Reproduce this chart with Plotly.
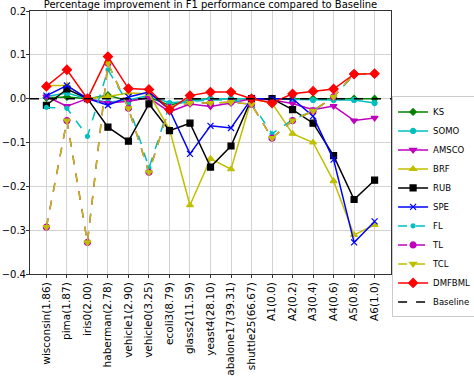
import plotly.graph_objects as go

categories = ["wisconsin(1.86)", "pima(1.87)", "iris0(2.00)", "haberman(2.78)", "vehicle1(2.90)",
              "vehicle0(3.25)", "ecoli3(8.79)", "glass2(11.59)", "yeast4(28.10)", "abalone17(39.31)",
              "shuttle25(66.67)", "A1(0.0)", "A2(0.2)", "A3(0.4)", "A4(0.6)", "A5(0.8)", "A6(1.0)"]

ks     = [0.002, 0.004, 0.0, 0.008, -0.005, 0.003, -0.015, -0.003, 0.0, 0.0, 0.0, 0.0, 0.0, 0.0, 0.0, 0.0, 0.0]
somo   = [0.005, 0.013, 0.0, -0.008, -0.003, 0.008, -0.010, -0.005, 0.0, 0.0, 0.0, 0.0, -0.002, -0.003, -0.003, -0.003, -0.010]
amsco  = [0.005, -0.017, 0.0, -0.010, -0.006, 0.002, -0.030, -0.012, -0.018, -0.010, 0.0, -0.003, -0.011, -0.025, -0.017, -0.050, -0.044]
brf    = [0.030, 0.030, 0.0, 0.005, 0.013, 0.011, -0.070, -0.243, -0.137, -0.161, 0.0, -0.010, -0.080, -0.100, -0.188, -0.311, -0.288]
rub    = [-0.015, 0.022, 0.0, -0.065, -0.097, -0.012, -0.073, -0.056, -0.156, -0.108, 0.0, 0.0, -0.025, -0.056, -0.130, -0.230, -0.186]
spe    = [0.007, 0.030, 0.0, -0.015, 0.004, 0.015, -0.025, -0.126, -0.062, -0.067, 0.0, 0.0, 0.0, -0.040, -0.139, -0.328, -0.280]
fl     = [-0.020, -0.022, -0.086, 0.066, -0.013, -0.158, -0.015, -0.006, -0.003, -0.003, -0.010, -0.080, -0.048, -0.028, 0.004, 0.055, 0.057]
tl     = [-0.293, -0.050, -0.328, 0.081, -0.022, -0.168, -0.020, -0.010, -0.010, -0.008, -0.013, -0.090, -0.050, -0.028, 0.004, 0.056, 0.057]
tcl    = [-0.293, -0.050, -0.328, 0.081, -0.022, -0.168, -0.020, -0.010, -0.010, -0.008, -0.013, -0.090, -0.050, -0.028, 0.004, 0.056, 0.057]
dmfbml = [0.028, 0.066, 0.0, 0.096, 0.023, 0.021, -0.025, 0.007, 0.015, 0.015, 0.0, -0.010, 0.011, 0.017, 0.022, 0.056, 0.057]
baseline_value = 0.0

y_ticks = [0.2, 0.1, 0.0, -0.1, -0.2, -0.3, -0.4]

xpos = list(range(len(categories)))
x_lo, x_hi = -0.8, len(categories) - 1 + 0.8

series = [
    ("KS", ks, "#008000", "solid", "diamond", 5),
    ("SOMO", somo, "#00bfbf", "solid", "circle", 5),
    ("AMSCO", amsco, "#bf00bf", "solid", "triangle-down", 6),
    ("BRF", brf, "#bfbf00", "solid", "triangle-up", 6),
    ("RUB", rub, "#000000", "solid", "square", 6),
    ("SPE", spe, "#0000ff", "solid", "x-thin-open", 6),
    ("FL", fl, "#00bfbf", "dash", "circle", 4),
    ("TL", tl, "#bf00bf", "dash", "circle", 6),
    ("TCL", tcl, "#bfbf00", "dash", "triangle-down", 6),
    ("DMFBML", dmfbml, "#ff0000", "solid", "diamond", 7),
]

fig = go.Figure()
for name, vals, col, dash, sym, size in series:
    fig.add_trace(go.Scatter(
        x=xpos, y=vals, name=name, mode="lines+markers",
        line=dict(color=col, width=1.5, dash=dash),
        marker=dict(symbol=sym, size=size, color=col, line=dict(color=col, width=1.2)),
    ))

fig.add_trace(go.Scatter(
    x=[x_lo, x_hi], y=[baseline_value, baseline_value], name="Baseline", mode="lines",
    line=dict(color="black", width=1.5, dash="dash"),
))

fig.update_layout(
    width=474, height=376,
    margin=dict(l=30, r=83, t=11, b=102, autoexpand=False),
    paper_bgcolor="white", plot_bgcolor="white",
    font=dict(family="DejaVu Sans", size=10.5, color="black"),
    title=dict(text="Percentage improvement in F1 performance compared to Baseline",
               x=0.5, xref="paper", y=0.998, yref="container", yanchor="top",
               font=dict(size=10, color="black"), pad=dict(t=0, b=0)),
    legend=dict(x=1.003, xanchor="left", y=0.255, yanchor="middle",
                font=dict(size=8.5), bgcolor="white", bordercolor="#cccccc", borderwidth=1,
                itemwidth=30, tracegroupgap=0),
    showlegend=True,
)
fig.update_xaxes(
    range=[x_lo, x_hi], tickmode="array", tickvals=xpos, ticktext=categories,
    tickangle=-90, showgrid=True, gridcolor="#d3d3d3", gridwidth=1, automargin=False,
    showline=True, linecolor="#333333", linewidth=1, mirror=True,
    ticks="outside", ticklen=3, tickcolor="#333333", zeroline=False,
)
fig.update_yaxes(
    range=[-0.4, 0.2], tickmode="array", tickvals=y_ticks, tickformat=".1f", automargin=False,
    tickfont=dict(size=10), ticklabelstandoff=-2,
    showgrid=True, gridcolor="#d3d3d3", gridwidth=1,
    showline=True, linecolor="#333333", linewidth=1, mirror=True,
    ticks="outside", ticklen=3, tickcolor="#333333", zeroline=False,
)

fig.write_html("out.html", config={"displayModeBar": False},
               post_script="document.body.style.margin='0';document.body.style.overflow='hidden';")
